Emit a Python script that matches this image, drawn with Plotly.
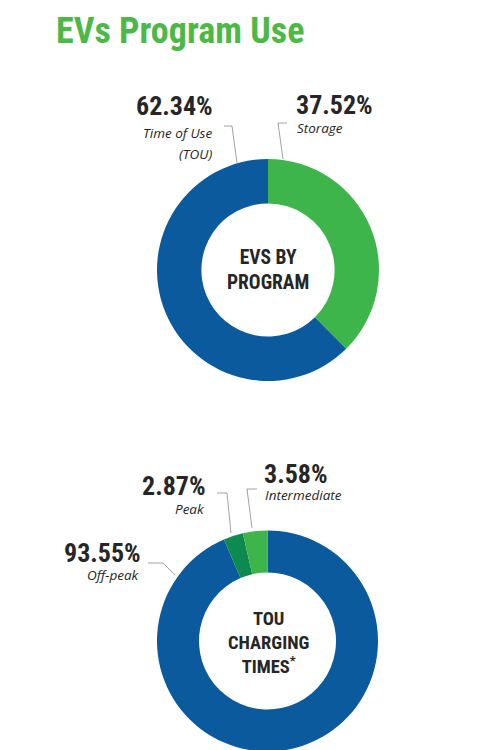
import plotly.graph_objects as go

# data
program_labels = ["Storage", "Time of Use (TOU)"]
program_values = [37.52, 62.34]
program_colors = ["#3DB54A", "#0B5A9E"]

tou_labels = ["Off-peak", "Peak", "Intermediate"]
tou_values = [93.55, 2.87, 3.58]
tou_colors = ["#0B5A9E", "#0C8A4F", "#3DB54A"]

W, H = 500, 750
OFF = 8  # page body margin
COND = "Roboto Condensed, Open Sans Condensed, Roboto"
ITAL = "Open Sans, Noto Sans"
DARK = "#262626"


def px_x(x):
    return (x - OFF) / W


def px_y(y):
    return 1 - (y - OFF) / H


fig = go.Figure()
fig.add_trace(go.Pie(
    labels=program_labels, values=program_values,
    marker=dict(colors=program_colors, line=dict(width=0)),
    hole=0.6, sort=False, direction="clockwise", rotation=0,
    textinfo="none", hoverinfo="label+value",
    domain=dict(x=[px_x(157), px_x(379)], y=[px_y(381), px_y(159)]),
))
fig.add_trace(go.Pie(
    labels=tou_labels, values=tou_values,
    marker=dict(colors=tou_colors, line=dict(width=0)),
    hole=0.62, sort=False, direction="clockwise", rotation=0,
    textinfo="none", hoverinfo="label+value",
    domain=dict(x=[px_x(157), px_x(378)], y=[px_y(752), px_y(530)]),
))

annots = []


def label(x, y, text, anchor, size, bold=True):
    fam = COND if bold else ITAL
    t = f"<b>{text}</b>" if bold else f"<i>{text}</i>"
    annots.append(dict(x=px_x(x), y=px_y(y), xref="paper", yref="paper",
                       text=t, showarrow=False, xanchor=anchor, yanchor="middle",
                       font=dict(family=fam, size=size, color=DARK)))


# title
annots.append(dict(x=px_x(54), y=px_y(31), xref="paper", yref="paper",
                   text="<b>EVs Program Use</b>", showarrow=False,
                   xanchor="left", yanchor="middle",
                   font=dict(family=COND, size=36, color="#4CB848")))

# donut 1 labels
label(215, 106, f"{program_values[1]:.2f}%", "right", 26)
label(214, 133, "Time of Use", "right", 13.5, bold=False)
label(214, 154, "(TOU)", "right", 13.5, bold=False)
label(294, 105, f"{program_values[0]:.2f}%", "left", 26)
label(295, 128, "Storage", "left", 13.5, bold=False)
annots.append(dict(x=px_x(268), y=px_y(270), xref="paper", yref="paper",
                   text="<b>EVS BY<br>PROGRAM</b>", showarrow=False,
                   xanchor="center", yanchor="middle",
                   font=dict(family=COND, size=19.5, color=DARK)))

# donut 2 labels
label(208, 486, f"{tou_values[1]:.2f}%", "right", 26)
label(207, 509, "Peak", "right", 13.5, bold=False)
label(262, 474, f"{tou_values[2]:.2f}%", "left", 26)
label(263, 495, "Intermediate", "left", 13.5, bold=False)
label(143, 553, f"{tou_values[0]:.2f}%", "right", 26)
label(142, 575, "Off-peak", "right", 13.5, bold=False)
annots.append(dict(x=px_x(268), y=px_y(643), xref="paper", yref="paper",
                   text="<b>TOU<br>CHARGING<br>TIMES<sup>*</sup></b>", showarrow=False,
                   xanchor="center", yanchor="middle",
                   font=dict(family=COND, size=18.5, color=DARK)))

# leader lines
leaders = [
    [(224, 126), (232, 126), (237, 163)],
    [(287, 123), (278, 123), (283, 159)],
    [(217, 493), (227, 493), (231, 533)],
    [(257, 489), (247, 489), (252, 528)],
    [(148, 563), (163, 563), (175, 575)],
]
shapes = []
for pts in leaders:
    path = "M " + " L ".join(f"{px_x(x)},{px_y(y)}" for x, y in pts)
    shapes.append(dict(type="path", path=path, xref="paper", yref="paper",
                       line=dict(color="#8a8a8a", width=0.8)))

fig.update_layout(
    width=W, height=H,
    margin=dict(l=0, r=0, t=0, b=0),
    paper_bgcolor="white", plot_bgcolor="white",
    showlegend=False,
    annotations=annots, shapes=shapes,
)

fig.write_html("out.html")
